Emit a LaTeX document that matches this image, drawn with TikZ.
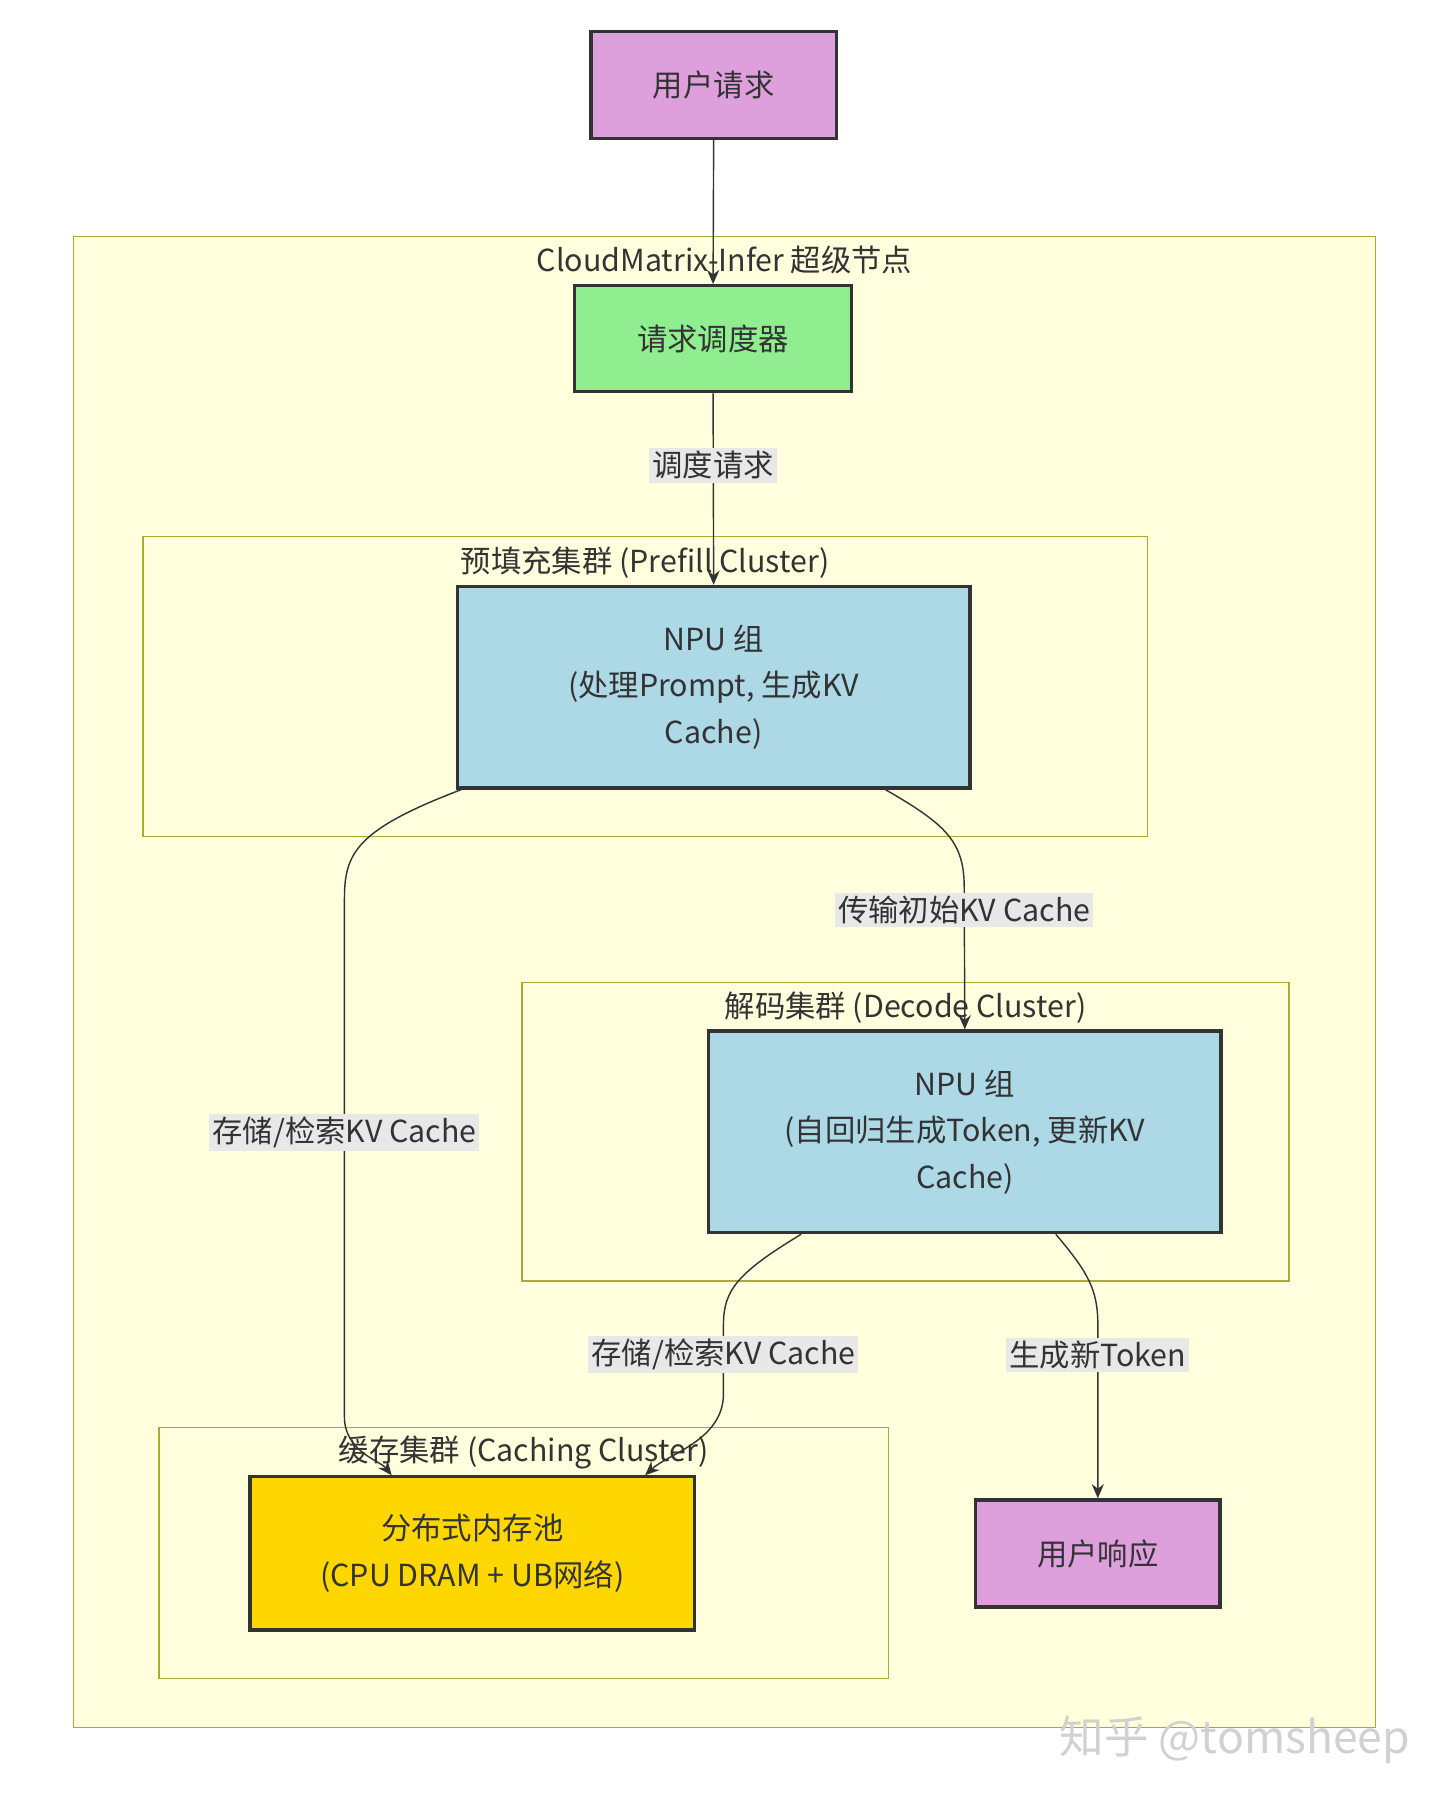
\documentclass[tikz,border=0pt]{standalone}
\usepackage{fontspec}
\setmainfont{Noto Sans CJK SC}
\usetikzlibrary{arrows.meta,calc}
\definecolor{clfill}{HTML}{FFFFDE}
\definecolor{cldraw}{HTML}{AAAA33}
\definecolor{plum}{HTML}{DDA0DD}
\definecolor{lgreen}{HTML}{90EE90}
\definecolor{lblue}{HTML}{ADD8E6}
\definecolor{gold}{HTML}{FFD700}
\definecolor{edgelbl}{HTML}{E8E8E8}
\definecolor{ink}{HTML}{333333}
\tikzset{
  txt/.style={font=\fontsize{15}{23}\selectfont, text=ink},
  box/.style={txt, draw=ink, line width=1.6pt, align=center},
  cluster/.style={draw=cldraw, fill=clfill, line width=0.6pt},
  cllabel/.style={txt},
  elabel/.style={txt, fill=edgelbl, inner sep=1.5pt},
  link/.style={draw=ink, line width=0.7pt, -{Stealth[length=7pt,width=6pt]}},
}
\begin{document}
\begin{tikzpicture}[x=0.02cm, y=-0.02cm]
\useasboundingbox (0,0) rectangle (1250,1566);

% clusters
\node[cluster, minimum width=22.6cm, minimum height=25.9cm] (outer) at (629,852.5) {};
\node[cllabel] (outerl) at (629,226) {CloudMatrix-Infer 超级节点};
\node[cluster, minimum width=17.44cm, minimum height=5.2cm] (precl) at (560,596) {};
\node[cllabel] (precll) at (560,488) {预填充集群 (Prefill Cluster)};
\node[cluster, minimum width=13.32cm, minimum height=5.18cm] (deccl) at (786,982.5) {};
\node[cllabel] (deccll) at (786,875) {解码集群 (Decode Cluster)};
\node[cluster, minimum width=12.66cm, minimum height=4.36cm] (cachecl) at (454.5,1348) {};
\node[cllabel] (cachecll) at (454.5,1261) {缓存集群 (Caching Cluster)};

% nodes
\node[box, fill=plum, minimum width=4.26cm, minimum height=1.86cm] (req) at (619.5,73.5) {用户请求};
\node[box, fill=lgreen, minimum width=4.8cm, minimum height=1.84cm] (sched) at (619,294) {请求调度器};
\node[box, fill=lblue, minimum width=8.9cm, minimum height=3.5cm] (pnpu) at (619.5,596.5) {NPU 组\\(处理Prompt, 生成KV\\Cache)};
\node[box, fill=lblue, minimum width=8.9cm, minimum height=3.5cm] (dnpu) at (837.5,982.5) {NPU 组\\(自回归生成Token, 更新KV\\Cache)};
\node[box, fill=gold, minimum width=7.72cm, minimum height=2.66cm] (pool) at (410,1348.5) {分布式内存池\\(CPU DRAM + UB网络)};
\node[box, fill=plum, minimum width=4.24cm, minimum height=1.86cm] (resp) at (953,1348.5) {用户响应};

% connectors
\draw[link] (req.south) -- (sched.north);
\draw[link] (sched.south) -- (pnpu.north);
\draw[link] ($(pnpu.south)+(-219,0)$) .. controls (310,720) and (299,740) .. (299,780)
  -- (299,1230) .. controls (299,1260) and (330,1268) .. ($(pool.north)+(-70,0)$);
\draw[link] ($(pnpu.south)+(149,0)$) .. controls (820,715) and (837,730) .. (837,770) -- (dnpu.north);
\draw[link] ($(dnpu.south)+(-142,0)$) .. controls (640,1105) and (628,1120) .. (628,1150)
  -- (628,1210) .. controls (628,1250) and (580,1262) .. ($(pool.north)+(150,0)$);
\draw[link] ($(dnpu.south)+(79,0)$) .. controls (945,1105) and (953,1120) .. (953,1150) -- (resp.north);

% edge labels
\node[elabel] (l1) at (619,404) {调度请求};
\node[elabel] (l2) at (837,790) {传输初始KV Cache};
\node[elabel] (l3) at (299,983) {存储/检索KV Cache};
\node[elabel] (l4) at (628,1176) {存储/检索KV Cache};
\node[elabel] (l5) at (953,1176) {生成新Token};

% watermark
\node[font=\fontsize{22}{26}\selectfont, text=black!18] (wm) at (1072,1510) {知乎 @tomsheep};
\end{tikzpicture}
\end{document}
